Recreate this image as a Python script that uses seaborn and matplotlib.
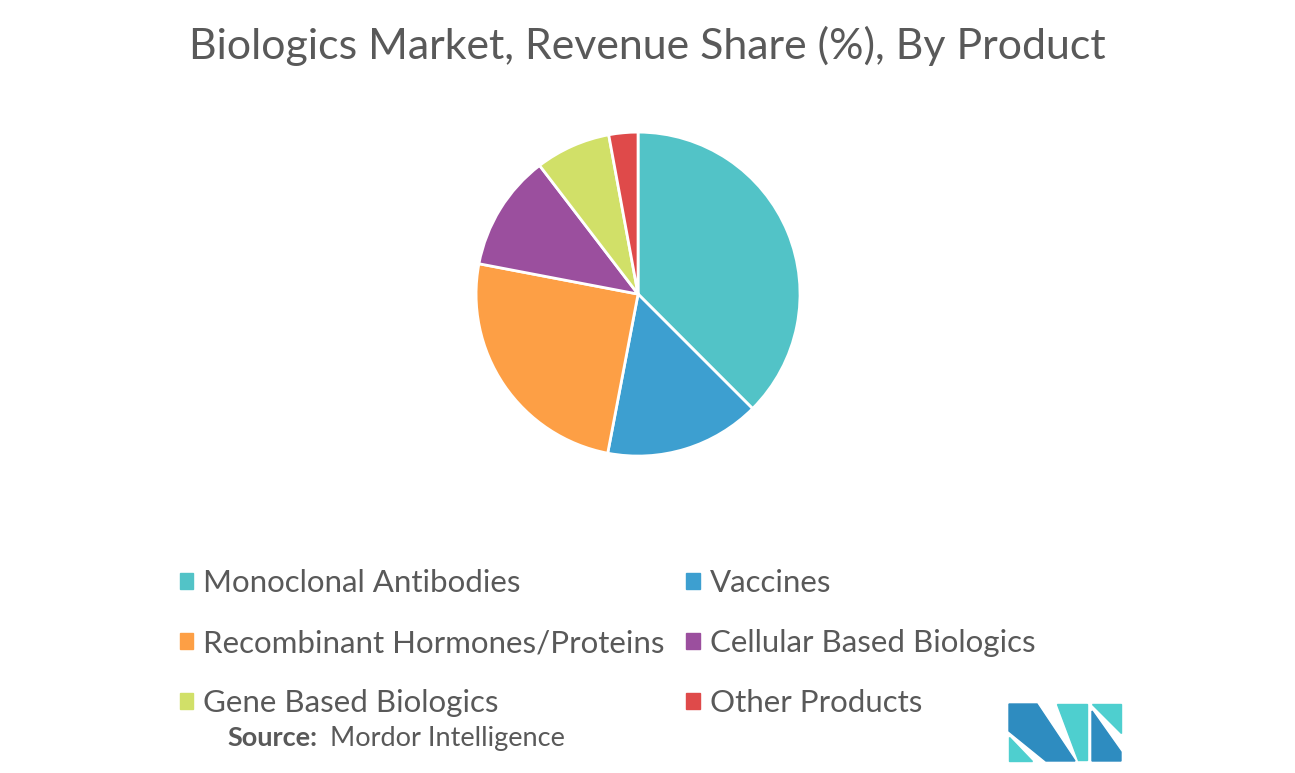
import matplotlib
matplotlib.use("Agg")
import matplotlib.pyplot as plt
import matplotlib.patches as mpatches
import seaborn as sns

# revenue share by product (%)
products = ['Monoclonal Antibodies', 'Vaccines', 'Recombinant Hormones/Proteins',
            'Cellular Based Biologics', 'Gene Based Biologics', 'Other Products']
share = [37.5, 15.5, 25.0, 11.6, 7.5, 2.9]
colors = ['#52C3C7', '#3D9FD0', '#FD9F45', '#9B4F9E', '#D1E068', '#DF4A4A']

sns.set_theme(style='white')
plt.rcParams['font.family'] = ['Lato', 'DejaVu Sans']
txt = '#595959'

fig = plt.figure(figsize=(12.95, 7.73), dpi=100)
fig.patch.set_facecolor('white')

# pie centred at about (638, 294) px, radius 162 px
ax = fig.add_axes([0.3676, 0.410, 0.2502, 0.4191])
ax.pie(share, colors=sns.color_palette(colors), startangle=90, counterclock=False,
       wedgeprops={'edgecolor': 'white', 'linewidth': 2})
ax.set_xlim(-1.0, 1.0)
ax.set_ylim(-1.0, 1.0)
ax.set_aspect('equal')
ax.axis('off')

fig.text(0.5, 0.94, 'Biologics Market, Revenue Share (%), By Product',
         ha='center', va='center', fontsize=30.9, color=txt)

# legend filled column-wise, so reorder to read row by row
order = [0, 2, 4, 1, 3, 5]
handles = [mpatches.Patch(color=colors[i], label=products[i]) for i in order]
fig.legend(handles=handles, ncol=2, loc='upper left', bbox_to_anchor=(0.1387, 0.264),
           frameon=False, fontsize=22.5, labelcolor=txt, handlelength=0.42,
           handleheight=0.42, handletextpad=0.33, labelspacing=1.03,
           columnspacing=0.7, borderpad=0, borderaxespad=0)

fig.text(0.176, 0.045, 'Source:', fontsize=19.5, color=txt, fontweight='bold',
         ha='left', va='center')
fig.text(0.2548, 0.045, 'Mordor Intelligence', fontsize=19.5, color=txt,
         ha='left', va='center')

# logo, pixel coords (x from left, y from top)
W, H = 1295, 773
def poly(pts, c):
    p = [(x / W, 1 - y / H) for x, y in pts]
    fig.add_artist(mpatches.Polygon(p, closed=True, color=c, transform=fig.transFigure))

dark, light = '#2E8CC0', '#4ECFCF'
poly([(1009, 704), (1037, 704), (1075, 761), (1046, 761), (1009, 731)], dark)
poly([(1009, 737), (1009, 761), (1032, 761)], light)
poly([(1057, 704), (1087, 704), (1087, 760), (1078, 760)], light)
poly([(1092, 704), (1121, 704), (1121, 733)], light)
poly([(1092, 711), (1121, 752), (1121, 761), (1092, 761)], dark)

fig.savefig('out.png', dpi=100, facecolor='white')
